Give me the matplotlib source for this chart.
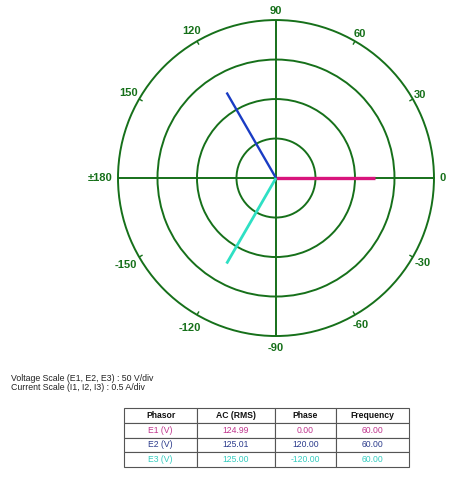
import numpy as np
import matplotlib.pyplot as plt

plt.rcParams['font.family'] = ['Liberation Sans', 'DejaVu Sans']

# phasor data
phasor_names = ['E1 (V)', 'E2 (V)', 'E3 (V)']
ac_rms = [124.99, 125.01, 125.00]
phase_deg = [0.00, 120.00, -120.00]
frequency = [60.00, 60.00, 60.00]
phasor_colors = ['#d8147c', '#1a3cc4', '#2ee0c4']
text_colors = ['#c0368e', '#2c3c8c', '#36ccc0']

volt_per_div = 50
ring_values = [50, 100, 150]
r_max = 200
angle_ticks = [0, 30, 60, 90, 120, 150, 180, -150, -120, -90, -60, -30]
angle_labels = ['0', '30', '60', '90', '120', '150', '\u00b1180',
                '-150', '-120', '-90', '-60', '-30']
table_header = ['Phasor', 'AC (RMS)', 'Phase', 'Frequency']

green = '#16701a'

fig = plt.figure(figsize=(4.74, 4.83), dpi=100)
ax = fig.add_axes([0.2489, 0.3043, 0.6667, 0.6542], projection='polar')
ax.set_ylim(0, r_max)
ax.set_rgrids(ring_values, labels=[])
ax.set_thetagrids([0, 90, 180, 270], labels=[])
ax.grid(True, color=green, linewidth=1.4, linestyle='-')
ax.spines['polar'].set_color(green)
ax.spines['polar'].set_linewidth(1.4)
ax.tick_params(length=0)

# small inward marks on the outer circle + angle labels
for a, lab in zip(angle_ticks, angle_labels):
    th = np.deg2rad(a)
    if a % 90 != 0:
        ax.plot([th, th], [r_max - 5, r_max], color=green, lw=1.0,
                solid_capstyle='butt')
    # push labels a little further out on the left / bottom side
    r_lab = 211 + 4 * (np.cos(th) < -0.1) + 4 * (np.sin(th) < -0.1)
    if lab == '\u00b1180':
        r_lab = 222
    ax.text(th, r_lab, lab, color=green, fontsize=8, fontweight='bold',
            ha='center', va='center', clip_on=False)

# phasors
widths = [2.4, 1.7, 2.0]
for mag, ph, c, w in zip(ac_rms, phase_deg, phasor_colors, widths):
    th = np.deg2rad(ph)
    ax.plot([th, th], [0, mag], color=c, lw=w, solid_capstyle='butt', zorder=5)

fig.text(0.023, 0.216, 'Voltage Scale (E1, E2, E3) : 50 V/div', fontsize=6.3,
         color='#222222', va='center')
fig.text(0.023, 0.197, 'Current Scale (I1, I2, I3) : 0.5 A/div', fontsize=6.3,
         color='#222222', va='center')

# table
tax = fig.add_axes([0.2616, 0.0331, 0.6013, 0.1222])
tax.axis('off')
cells = []
for i in range(len(phasor_names)):
    cells.append([phasor_names[i], f'{ac_rms[i]:.2f}', f'{phase_deg[i]:.2f}',
                  f'{frequency[i]:.2f}'])
col_w = [73, 78, 61, 73]
col_w = [w / sum(col_w) for w in col_w]
tbl = tax.table(cellText=cells, colLabels=table_header, colWidths=col_w,
                cellLoc='center', bbox=[0, 0, 1, 1])
tbl.auto_set_font_size(False)
for (r, c), cell in tbl.get_celld().items():
    cell.set_edgecolor('#555555')
    cell.set_linewidth(0.8)
    cell.get_text().set_fontsize(6.2)
    if r == 0:
        cell.get_text().set_fontweight('bold')
        cell.get_text().set_color('#111111')
    else:
        cell.get_text().set_color(text_colors[r - 1])

fig.savefig('out.png', dpi=100)
